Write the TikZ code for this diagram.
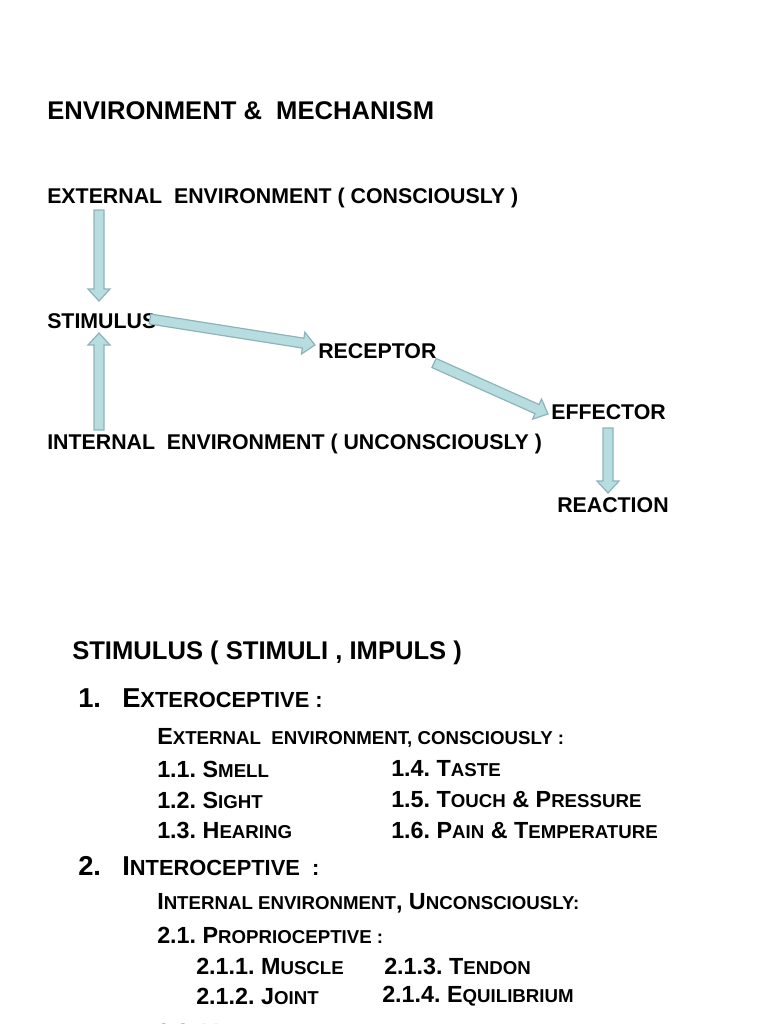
\documentclass[tikz,border=0pt]{standalone}
\usepackage{fontspec}
\setmainfont{Liberation Sans}
\usetikzlibrary{calc}
\frenchspacing
\definecolor{arrowfill}{HTML}{B8DDE1}
\definecolor{arrowline}{HTML}{8DB3B8}
\newcommand{\sml}[1]{\scalebox{0.8}{#1}}
\newcommand{\shaftw}{3.75pt}
\newcommand{\headw}{8.25pt}
\newcommand{\headlen}{9pt}
% block arrow between two named points
\newcommand{\blockarrow}[2]{%
  \coordinate (hb) at ($(#2)!\headlen!(#1)$);
  \draw[barrow] ($(#1)!\shaftw!90:(#2)$) -- ($(hb)!\shaftw!-90:(#1)$) -- ($(hb)!\headw!-90:(#1)$) -- (#2) -- ($(hb)!\headw!90:(#1)$) -- ($(hb)!\shaftw!90:(#1)$) -- ($(#1)!\shaftw!-90:(#2)$) -- cycle;}
\tikzset{
  px/.style={x=0.75pt,y=0.75pt,yscale=-1},
  barrow/.style={fill=arrowfill,draw=arrowline,line width=0.9pt,line join=miter},
  lbl/.style={anchor=west,inner sep=0pt,font=\bfseries\fontsize{16}{16}\selectfont},
  head/.style={anchor=west,inner sep=0pt,font=\bfseries\fontsize{19.2}{19.2}\selectfont},
  item/.style={anchor=west,inner sep=0pt,font=\bfseries\fontsize{17.5}{17.5}\selectfont},
  sect/.style={anchor=west,inner sep=0pt,font=\bfseries\fontsize{20.5}{20.5}\selectfont},
}
\begin{document}
\begin{tikzpicture}[px]
\useasboundingbox (0,0) rectangle (768,1024);
\clip (0,0) rectangle (768,1024);

% Text Node
\draw (47,111) node [head] (title) {ENVIRONMENT \&\ \ MECHANISM};
% Text Node
\draw (47,198) node [lbl] (ext) {EXTERNAL\ \ ENVIRONMENT ( CONSCIOUSLY )};
% Text Node
\draw (47,321) node [lbl] (stim) {STIMULUS};
% Text Node
\draw (318,351) node [lbl] (rec) {RECEPTOR};
% Text Node
\draw (551,412) node [lbl] (eff) {EFFECTOR};
% Text Node
\draw (47,444) node [lbl] (int) {INTERNAL\ \ ENVIRONMENT ( UNCONSCIOUSLY )};
% Text Node
\draw (557,505) node [lbl] (react) {REACTION};

% arrow ends
\coordinate (a1s) at (99,210);
\coordinate (a1e) at (99,301);
\coordinate (a2s) at (99,430);
\coordinate (a2e) at (99,333);
\coordinate (a3s) at (150,319);
\coordinate (a3e) at (315,345);
\coordinate (a4s) at (434,363);
\coordinate (a4e) at (548,414);
\coordinate (a5s) at (608,428);
\coordinate (a5e) at (608,493);

\blockarrow{a1s}{a1e}
\blockarrow{a2s}{a2e}
\blockarrow{a3s}{a3e}
\blockarrow{a4s}{a4e}
\blockarrow{a5s}{a5e}

% Text Node
\draw (72,653) node [head] (stimhd) {STIMULUS ( STIMULI , IMPULS )};
% Text Node
\draw (78,698) node [sect] (n1) {1.};
\draw (122,698) node [sect] (exto) {E\sml{XTEROCEPTIVE :}};
% Text Node
\draw (157,738) node [item] (extenv) {E\sml{XTERNAL\ \ ENVIRONMENT, CONSCIOUSLY :}};
\draw (157,769) node [item] (i11) {1.1. S\sml{MELL}};
\draw (157,800) node [item] (i12) {1.2. S\sml{IGHT}};
\draw (157,830) node [item] (i13) {1.3. H\sml{EARING}};
\draw (391,769) node [item] (i14) {1.4. T\sml{ASTE}};
\draw (391,800) node [item] (i15) {1.5. T\sml{OUCH} \& P\sml{RESSURE}};
\draw (391,830) node [item] (i16) {1.6. P\sml{AIN} \& T\sml{EMPERATURE}};
% Text Node
\draw (78,866) node [sect] (n2) {2.};
\draw (122,866) node [sect] (into) {I\sml{NTEROCEPTIVE\ \ :}};
% Text Node
\draw (157,903) node [item] (intenv) {I\sml{NTERNAL ENVIRONMENT}, U\sml{NCONSCIOUSLY:}};
\draw (157,935) node [item] (i21) {2.1. P\sml{ROPRIOCEPTIVE :}};
\draw (196,966) node [item] (i211) {2.1.1. M\sml{USCLE}};
\draw (196,996) node [item] (i212) {2.1.2. J\sml{OINT}};
\draw (384,966) node [item] (i213) {2.1.3. T\sml{ENDON}};
\draw (382,996) node [item] (i214) {2.1.4. E\sml{QUILIBRIUM}};
\draw (157,1032) node [item] (i22) {2.2. V\sml{ISCEROCEPTIVE}};

\end{tikzpicture}
\end{document}
